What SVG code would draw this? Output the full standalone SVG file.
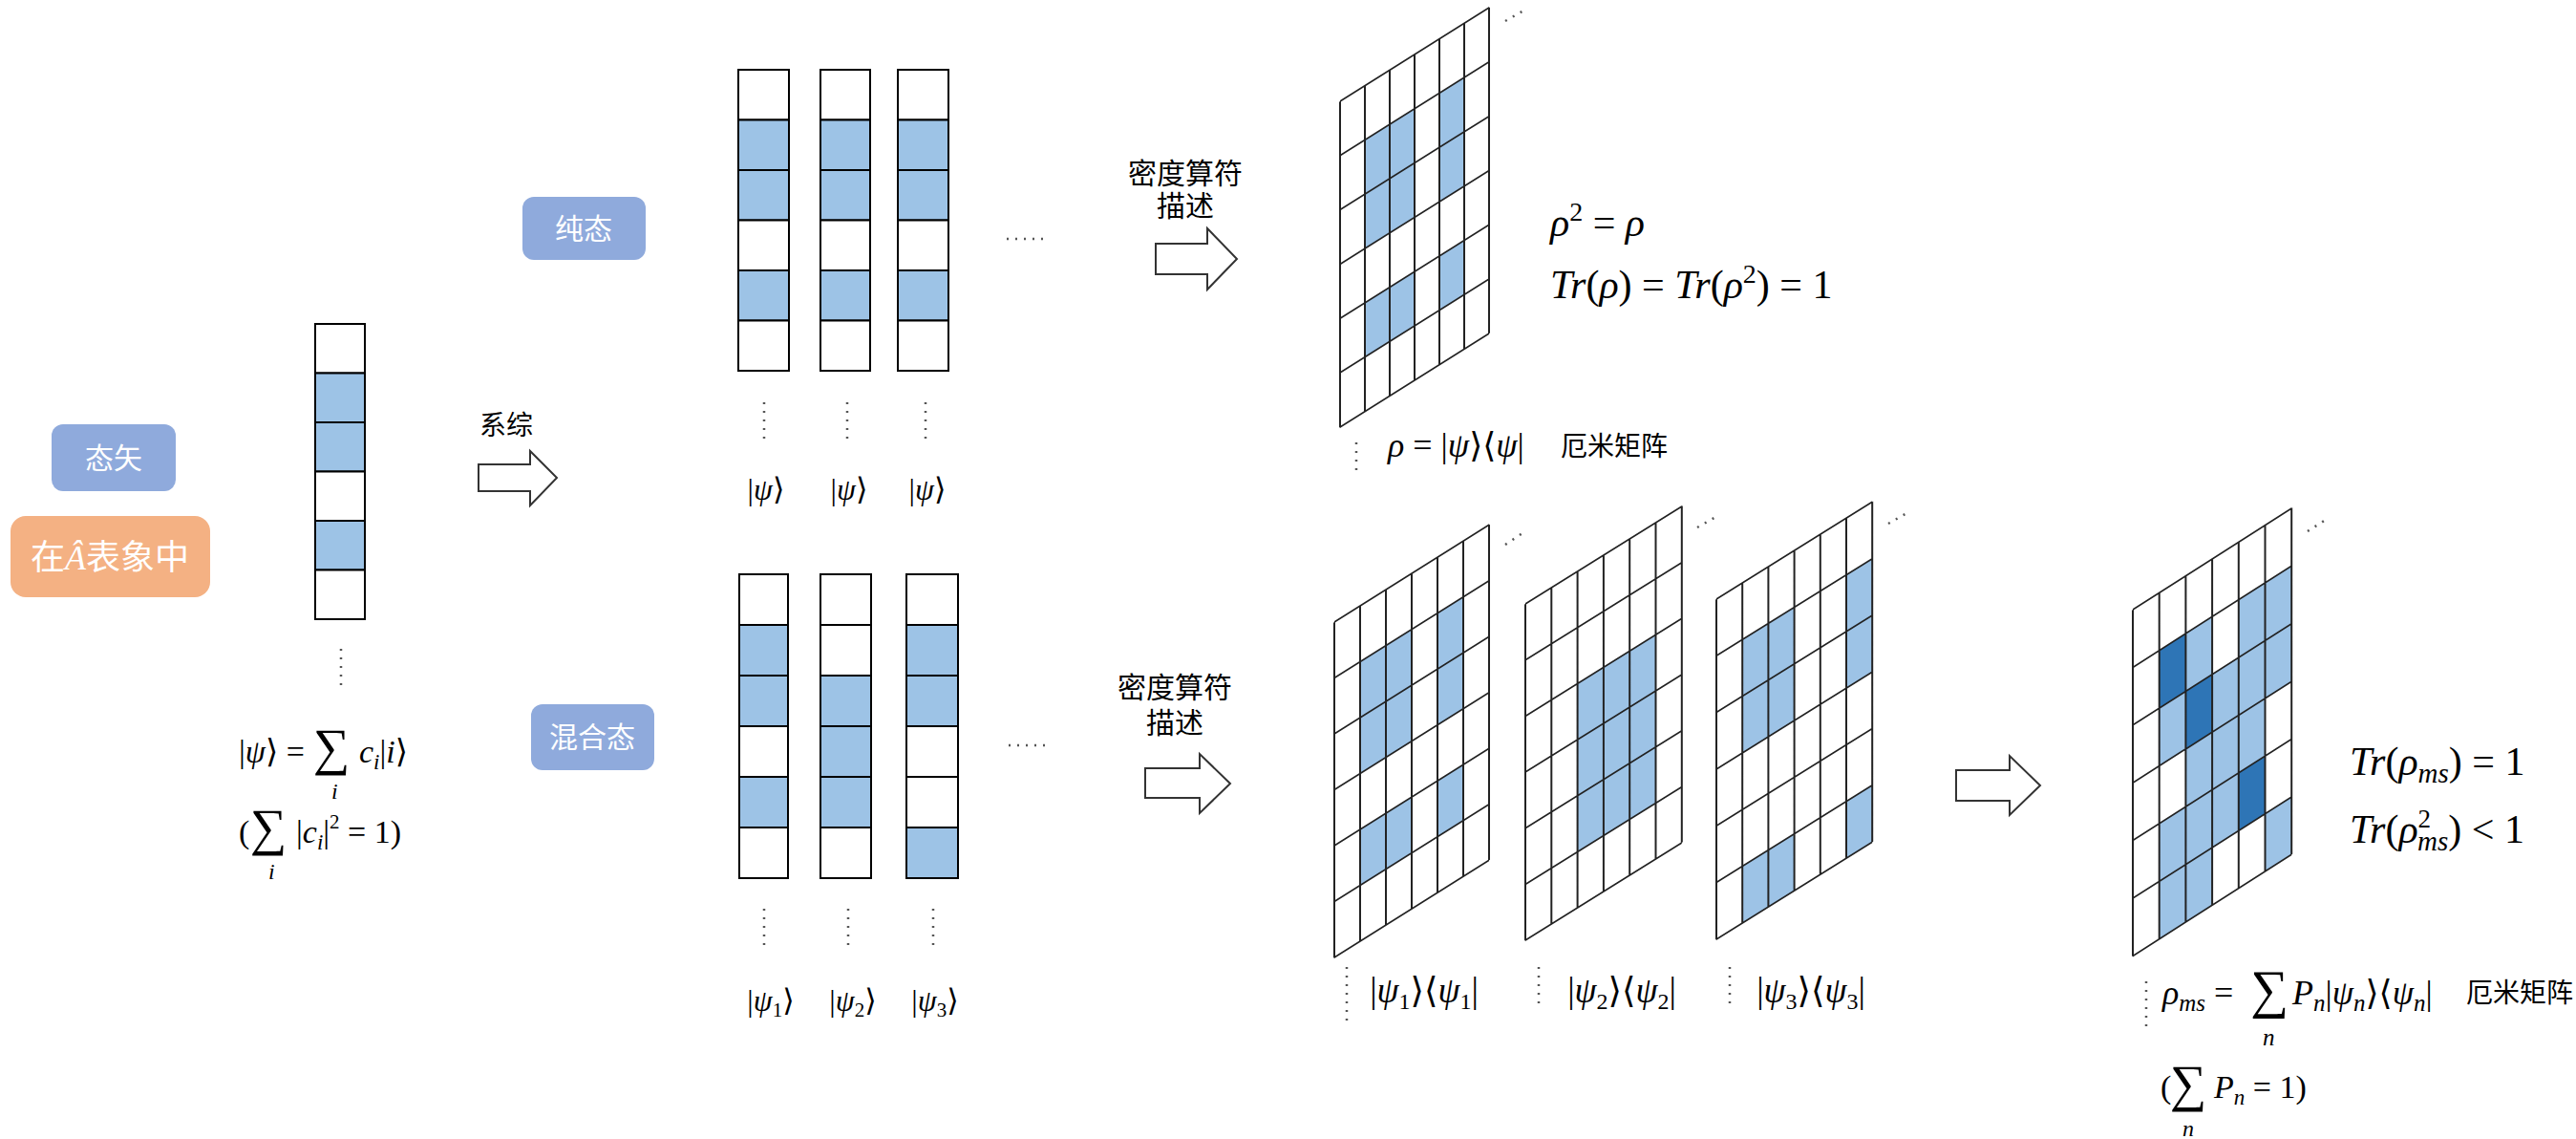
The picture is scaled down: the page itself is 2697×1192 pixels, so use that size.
<svg xmlns="http://www.w3.org/2000/svg" width="2697" height="1192" viewBox="0 0 2697 1192">
<style>
.cn{font-family:"Liberation Sans","Noto Sans CJK SC",sans-serif}
.m{font-family:"Liberation Serif","DejaVu Serif",serif}
.i{font-style:italic}
.cell{stroke:#000;stroke-width:2;fill:#fff}
.b{fill:#9DC3E6}
.d{fill:#2E75B6}
.grid{fill:none;stroke:#222;stroke-width:2}
.dots{stroke:#555;stroke-width:2.5;stroke-dasharray:2 7;fill:none}
.arr{fill:#fff;stroke:#333;stroke-width:2}
</style>
<rect width="2697" height="1192" fill="#fff"/>
<g id="n-taishi"><rect x="54" y="444" width="130" height="70" rx="12" fill="#8FAADC"/><text x="119" y="490" class="cn" font-size="30" fill="#fff" text-anchor="middle">态矢</text></g>
<g id="n-rep"><rect x="11" y="540" width="209" height="85" rx="16" fill="#F4B183"/><text x="115" y="596" class="cn" font-size="36" fill="#fff" text-anchor="middle">在<tspan class="m i">Â</tspan>表象中</text></g>
<g id="n-vec">
<rect class="cell" x="330" y="339" width="52" height="51.5"/><rect class="cell b" x="330" y="390.5" width="52" height="51.5"/><rect class="cell b" x="330" y="442" width="52" height="51.5"/><rect class="cell" x="330" y="493.5" width="52" height="51.5"/><rect class="cell b" x="330" y="545" width="52" height="51.5"/><rect class="cell" x="330" y="596.5" width="52" height="51.5"/>
<line class="dots" x1="357" y1="679" x2="357" y2="717"/>
<text x="250" y="798" class="m" font-size="34">|<tspan class="i">ψ</tspan>⟩ = </text>
<text x="328" y="800" class="m" font-size="54">∑</text><text x="347" y="836" class="m i" font-size="24">i</text>
<text x="376" y="798" class="m" font-size="34"><tspan class="i">c</tspan><tspan class="i" font-size="23" dy="7">i</tspan><tspan dy="-7">|</tspan><tspan class="i">i</tspan>⟩</text>
<text x="250" y="882" class="m" font-size="34">(</text>
<text x="262" y="884" class="m" font-size="54">∑</text><text x="281" y="920" class="m i" font-size="24">i</text>
<text x="310" y="882" class="m" font-size="34">|<tspan class="i">c</tspan><tspan class="i" font-size="23" dy="7">i</tspan><tspan dy="-7">|</tspan><tspan font-size="21" dy="-15">2</tspan><tspan dy="15"> = 1)</tspan></text>
</g>
<g id="n-ensemble"><text x="530" y="455" class="cn" font-size="28" text-anchor="middle">系综</text><path class="arr" d="M501 486 H555 V472 L583 500 L555 529 V514 H501 Z"/></g>
<g id="n-pure-label"><rect x="547" y="206" width="129" height="66" rx="12" fill="#8FAADC"/><text x="611" y="250" class="cn" font-size="30" fill="#fff" text-anchor="middle">纯态</text></g>
<g id="n-mixed-label"><rect x="556" y="737" width="129" height="69" rx="12" fill="#8FAADC"/><text x="620" y="782" class="cn" font-size="30" fill="#fff" text-anchor="middle">混合态</text></g>
<g id="n-pure-cols">
<g transform="translate(773,73)"><rect class="cell" y="0" width="53" height="52.5"/><rect class="cell b" y="52.5" width="53" height="52.5"/><rect class="cell b" y="105" width="53" height="52.5"/><rect class="cell" y="157.5" width="53" height="52.5"/><rect class="cell b" y="210" width="53" height="52.5"/><rect class="cell" y="262.5" width="53" height="52.5"/></g>
<g transform="translate(859,73)"><rect class="cell" y="0" width="52" height="52.5"/><rect class="cell b" y="52.5" width="52" height="52.5"/><rect class="cell b" y="105" width="52" height="52.5"/><rect class="cell" y="157.5" width="52" height="52.5"/><rect class="cell b" y="210" width="52" height="52.5"/><rect class="cell" y="262.5" width="52" height="52.5"/></g>
<g transform="translate(940,73)"><rect class="cell" y="0" width="53" height="52.5"/><rect class="cell b" y="52.5" width="53" height="52.5"/><rect class="cell b" y="105" width="53" height="52.5"/><rect class="cell" y="157.5" width="53" height="52.5"/><rect class="cell b" y="210" width="53" height="52.5"/><rect class="cell" y="262.5" width="53" height="52.5"/></g>
<path class="dots" d="M800 421 V461 M887 421 V461 M969 421 V461"/>
<text x="802" y="523" class="m" font-size="32" text-anchor="middle">|<tspan class="i">ψ</tspan>⟩</text>
<text x="889" y="523" class="m" font-size="32" text-anchor="middle">|<tspan class="i">ψ</tspan>⟩</text>
<text x="971" y="523" class="m" font-size="32" text-anchor="middle">|<tspan class="i">ψ</tspan>⟩</text>
<line class="dots" x1="1054" y1="250" x2="1096" y2="250" stroke-dasharray="2 5"/>
</g>
<g id="n-mixed-cols">
<g transform="translate(774,601)"><rect class="cell" y="0" width="51" height="53"/><rect class="cell b" y="53" width="51" height="53"/><rect class="cell b" y="106" width="51" height="53"/><rect class="cell" y="159" width="51" height="53"/><rect class="cell b" y="212" width="51" height="53"/><rect class="cell" y="265" width="51" height="53"/></g>
<g transform="translate(859,601)"><rect class="cell" y="0" width="53" height="53"/><rect class="cell" y="53" width="53" height="53"/><rect class="cell b" y="106" width="53" height="53"/><rect class="cell b" y="159" width="53" height="53"/><rect class="cell b" y="212" width="53" height="53"/><rect class="cell" y="265" width="53" height="53"/></g>
<g transform="translate(949,601)"><rect class="cell" y="0" width="54" height="53"/><rect class="cell b" y="53" width="54" height="53"/><rect class="cell b" y="106" width="54" height="53"/><rect class="cell" y="159" width="54" height="53"/><rect class="cell" y="212" width="54" height="53"/><rect class="cell b" y="265" width="54" height="53"/></g>
<path class="dots" d="M800 951 V991 M888 951 V991 M977 951 V991"/>
<text x="807" y="1058" class="m" font-size="32" text-anchor="middle">|<tspan class="i">ψ</tspan><tspan font-size="21" dy="6">1</tspan><tspan dy="-6">⟩</tspan></text>
<text x="893" y="1058" class="m" font-size="32" text-anchor="middle">|<tspan class="i">ψ</tspan><tspan font-size="21" dy="6">2</tspan><tspan dy="-6">⟩</tspan></text>
<text x="979" y="1058" class="m" font-size="32" text-anchor="middle">|<tspan class="i">ψ</tspan><tspan font-size="21" dy="6">3</tspan><tspan dy="-6">⟩</tspan></text>
<line class="dots" x1="1056" y1="780" x2="1096" y2="780" stroke-dasharray="2 5"/>
</g>
<g id="n-density1"><text x="1241" y="192" class="cn" font-size="30" text-anchor="middle">密度算符</text><text x="1241" y="226" class="cn" font-size="30" text-anchor="middle">描述</text><path class="arr" d="M1210 255 H1264 V239 L1295 271 L1264 303 V287 H1210 Z"/></g>
<g id="n-density2"><text x="1230" y="730" class="cn" font-size="30" text-anchor="middle">密度算符</text><text x="1230" y="767" class="cn" font-size="30" text-anchor="middle">描述</text><path class="arr" d="M1199 804 H1256 V789 L1288 820 L1256 851 V835 H1199 Z"/></g>
<g id="n-rho-pure">
<g transform="translate(1403,106) matrix(1,-0.628,0,1,0,0)">
<rect class="b" x="26" y="56.8" width="52" height="113.6"/><rect class="b" x="26" y="227.2" width="52" height="56.8"/><rect class="b" x="104" y="56.8" width="26" height="113.6"/><rect class="b" x="104" y="227.2" width="26" height="56.8"/>
<path class="grid" stroke="#777" d="M0 0V341M26 0V341M52 0V341M78 0V341M104 0V341M130 0V341M156 0V341"/>
<path class="grid" d="M0 0H156M0 56.8H156M0 113.6H156M0 170.4H156M0 227.2H156M0 284H156M0 341H156"/>
</g>
<line class="dots" x1="1576" y1="22" x2="1597" y2="10" stroke-dasharray="2 3"/>
<line class="dots" x1="1420" y1="463" x2="1420" y2="498"/>
<text x="1453" y="478" class="m" font-size="36"><tspan class="i">ρ</tspan> = |<tspan class="i">ψ</tspan>⟩⟨<tspan class="i">ψ</tspan>|</text>
<text x="1634" y="477" class="cn" font-size="28">厄米矩阵</text>
<text x="1623" y="247" class="m" font-size="42"><tspan class="i">ρ</tspan><tspan font-size="28" dy="-16">2</tspan><tspan dy="16"> = </tspan><tspan class="i">ρ</tspan></text>
<text x="1623" y="312" class="m" font-size="42"><tspan class="i">Tr</tspan>(<tspan class="i">ρ</tspan>) = <tspan class="i">Tr</tspan>(<tspan class="i">ρ</tspan><tspan font-size="28" dy="-16">2</tspan><tspan dy="16">) = 1</tspan></text>
</g>
<g id="n-rho1">
<g transform="translate(1397,651) matrix(1,-0.628,0,1,0,0)">
<rect class="b" x="27" y="58.5" width="54" height="117"/><rect class="b" x="27" y="234" width="54" height="58.5"/><rect class="b" x="108" y="58.5" width="27" height="117"/><rect class="b" x="108" y="234" width="27" height="58.5"/>
<path class="grid" d="M0 0V351M27 0V351M54 0V351M81 0V351M108 0V351M135 0V351M162 0V351M0 0H162M0 58.5H162M0 117H162M0 175.5H162M0 234H162M0 292.5H162M0 351H162"/>
</g>
<line class="dots" x1="1576" y1="570" x2="1597" y2="556" stroke-dasharray="2 3"/>
<line class="dots" x1="1410" y1="1012" x2="1410" y2="1075"/>
<text x="1491" y="1049" class="m" font-size="37" text-anchor="middle">|<tspan class="i">ψ</tspan><tspan font-size="24" dy="7">1</tspan><tspan dy="-7">⟩⟨</tspan><tspan class="i">ψ</tspan><tspan font-size="24" dy="7">1</tspan><tspan dy="-7">|</tspan></text>
</g>
<g id="n-rho2">
<g transform="translate(1597,632) matrix(1,-0.623,0,1,0,0)">
<rect class="b" x="54.6" y="117.4" width="81.9" height="176.1"/>
<path class="grid" d="M0 0V352M27.3 0V352M54.6 0V352M81.9 0V352M109.2 0V352M136.5 0V352M163.8 0V352M0 0H163.8M0 58.7H163.8M0 117.4H163.8M0 176.1H163.8M0 234.8H163.8M0 293.5H163.8M0 352H163.8"/>
</g>
<line class="dots" x1="1777" y1="552" x2="1798" y2="540" stroke-dasharray="2 3"/>
<line class="dots" x1="1611" y1="1012" x2="1611" y2="1055"/>
<text x="1698" y="1049" class="m" font-size="37" text-anchor="middle">|<tspan class="i">ψ</tspan><tspan font-size="24" dy="7">2</tspan><tspan dy="-7">⟩⟨</tspan><tspan class="i">ψ</tspan><tspan font-size="24" dy="7">2</tspan><tspan dy="-7">|</tspan></text>
</g>
<g id="n-rho3">
<g transform="translate(1797,627) matrix(1,-0.623,0,1,0,0)">
<rect class="b" x="27.2" y="59.3" width="54.4" height="118.6"/><rect class="b" x="27.2" y="296.5" width="54.4" height="59.3"/><rect class="b" x="136" y="59.3" width="27.2" height="118.6"/><rect class="b" x="136" y="296.5" width="27.2" height="59.3"/>
<path class="grid" d="M0 0V356M27.2 0V356M54.4 0V356M81.6 0V356M108.8 0V356M136 0V356M163.2 0V356M0 0H163.2M0 59.3H163.2M0 118.6H163.2M0 177.9H163.2M0 237.2H163.2M0 296.5H163.2M0 356H163.2"/>
</g>
<line class="dots" x1="1977" y1="548" x2="1998" y2="536" stroke-dasharray="2 3"/>
<line class="dots" x1="1811" y1="1012" x2="1811" y2="1055"/>
<text x="1896" y="1049" class="m" font-size="37" text-anchor="middle">|<tspan class="i">ψ</tspan><tspan font-size="24" dy="7">3</tspan><tspan dy="-7">⟩⟨</tspan><tspan class="i">ψ</tspan><tspan font-size="24" dy="7">3</tspan><tspan dy="-7">|</tspan></text>
</g>
<g id="n-arrow3"><path class="arr" d="M2048 806 H2104 V791 L2136 822 L2104 853 V838 H2048 Z"/></g>
<g id="n-rho-ms">
<g transform="translate(2233,638) matrix(1,-0.638,0,1,0,0)">
<rect class="b" x="27.7" y="60.4" width="27.7" height="120.8"/><rect class="b" x="27.7" y="241.6" width="27.7" height="120.8"/>
<rect class="b" x="55.4" y="60.4" width="27.7" height="302"/>
<rect class="b" x="83.1" y="120.8" width="27.7" height="181.2"/>
<rect class="b" x="110.8" y="60.4" width="27.7" height="241.6"/>
<rect class="b" x="138.5" y="60.4" width="27.7" height="120.8"/><rect class="b" x="138.5" y="302" width="27.7" height="60.4"/>
<rect class="d" x="27.7" y="60.4" width="27.7" height="60.4"/><rect class="d" x="55.4" y="120.8" width="27.7" height="60.4"/><rect class="d" x="110.8" y="241.6" width="27.7" height="60.4"/>
<path class="grid" d="M0 0V362.4M27.7 0V362.4M55.4 0V362.4M83.1 0V362.4M110.8 0V362.4M138.5 0V362.4M166.2 0V362.4M0 0H166.2M0 60.4H166.2M0 120.8H166.2M0 181.2H166.2M0 241.6H166.2M0 302H166.2M0 362.4H166.2"/>
</g>
<line class="dots" x1="2416" y1="556" x2="2438" y2="542" stroke-dasharray="2 3"/>
<line class="dots" x1="2247" y1="1027" x2="2247" y2="1075"/>
<text x="2460" y="811" class="m" font-size="42"><tspan class="i">Tr</tspan>(<tspan class="i">ρ</tspan><tspan class="i" font-size="29" dy="8">ms</tspan><tspan dy="-8">) = 1</tspan></text>
<text x="2460" y="882" class="m" font-size="42"><tspan class="i">Tr</tspan>(<tspan class="i">ρ</tspan><tspan font-size="27" dy="-16">2</tspan><tspan class="i" font-size="29" dx="-14" dy="24">ms</tspan><tspan dy="-8">) &lt; 1</tspan></text>
<text x="2264" y="1051" class="m" font-size="36"><tspan class="i">ρ</tspan><tspan class="i" font-size="25" dy="7">ms</tspan><tspan dy="-7"> = </tspan></text>
<text x="2356" y="1054" class="m" font-size="56">∑</text><text x="2369" y="1094" class="m i" font-size="25">n</text>
<text x="2400" y="1051" class="m" font-size="36"><tspan class="i">P</tspan><tspan class="i" font-size="25" dy="7">n</tspan><tspan dy="-7">|</tspan><tspan class="i">ψ</tspan><tspan class="i" font-size="25" dy="7">n</tspan><tspan dy="-7">⟩⟨</tspan><tspan class="i">ψ</tspan><tspan class="i" font-size="25" dy="7">n</tspan><tspan dy="-7">|</tspan></text>
<text x="2582" y="1049" class="cn" font-size="28">厄米矩阵</text>
<text x="2262" y="1149" class="m" font-size="34">(</text>
<text x="2272" y="1152" class="m" font-size="54">∑</text><text x="2285" y="1189" class="m i" font-size="24">n</text>
<text x="2318" y="1149" class="m" font-size="34"><tspan class="i">P</tspan><tspan class="i" font-size="23" dy="7">n</tspan><tspan dy="-7"> = 1)</tspan></text>
</g>
<g id="connectors"/>
</svg>
